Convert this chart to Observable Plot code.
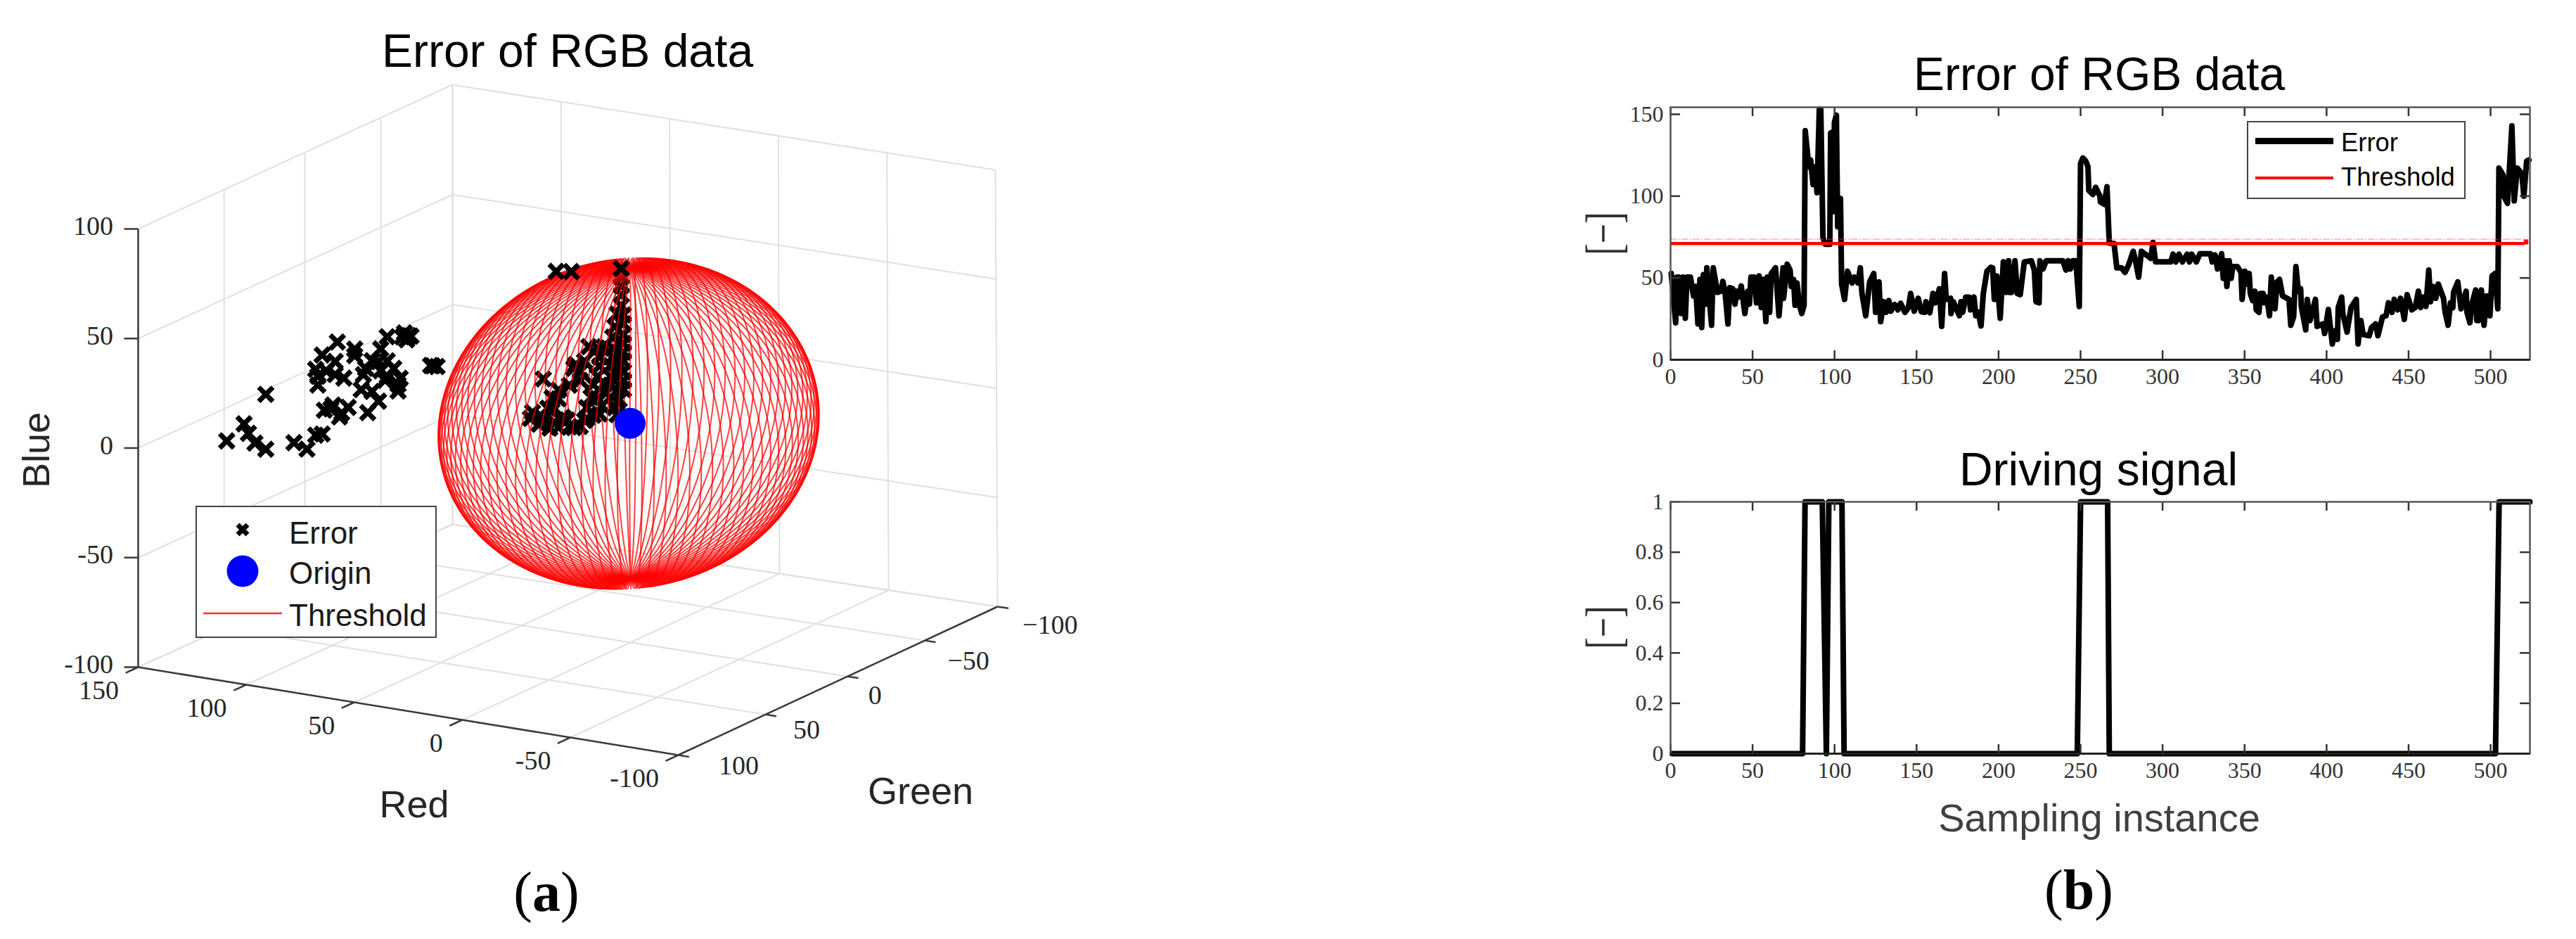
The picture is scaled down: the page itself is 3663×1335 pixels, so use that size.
<!DOCTYPE html>
<html>
<head>
<meta charset="utf-8">
<script src="https://cdn.jsdelivr.net/npm/d3@7"></script>
<script src="https://cdn.jsdelivr.net/npm/@observablehq/plot@0.6"></script>
<style>
html,body{margin:0;padding:0;background:#fff;}
#page{position:relative;width:3663px;height:1335px;overflow:hidden;font-family:"Liberation Sans",Arial,sans-serif;}
#page svg{position:absolute;background:none;}
.lbl{position:absolute;white-space:nowrap;line-height:1;}
.box{position:absolute;background:#fff;box-sizing:border-box;}
</style>
</head>
<body>
<div id="page"></div>
<script>
// ---------- DATA ----------
const threshold = 71;
const redTicks = [150, 100, 50, 0, -50, -100];
const greenTicks = [-100, -50, 0, 50, 100];
const blueTicks = [100, 50, 0, -50, -100];
const sampleTicks = [0, 50, 100, 150, 200, 250, 300, 350, 400, 450, 500];
const errorTicks = [0, 50, 100, 150];
const driveTicks = [0, 0.2, 0.4, 0.6, 0.8, 1];

// RGB error cloud (on the Green = 0 plane)
const errorRed = [186,178,176,173,168,155,149,145,142,168,141,137,134,130,121,116,119,124,107,144,145,142,135,127,127,136,140,136,132,144,123,119,115,112,104,101,103,105,102,116,112,109,115,106,107,113,122,91,89,92,112,138,133,
4,4,4,4,3,3,3,3,3,3,3,3,3,5,7,6,6,7,8,8,8,9,9,9,11,13,14,15,14,14,15,17,18,20,20,23,25,26,23,23,28,33,36,38,45,46,42,37,33,28,31,36,40,12,6,6,6,6,12,15,17,21,26,40,35,29,33,21,19,34,27,4];
const errorBlue = [-37,-28,-32,-36,-38,-33,-35,-28,-27,-13,-16,-13,-18,-13,-14,-8,-4,-4,-2,-5,2,9,16,14,11,7,2,1,0,-1,3,10,16,22,25,24,22,23,24,10,11,8,6,4,1,2,6,12,12,12,4,-15,-16,
66,62,58,53,49,45,40,36,32,28,23,19,15,10,6,3,49,43,38,33,29,25,20,16,12,6,2,32,28,24,19,15,9,4,-1,-5,23,21,20,16,13,10,6,1,-2,-5,-7,-8,-7,-6,-2,0,14,33,27,21,14,9,16,9,1,-2,-6,-4,-5,-3,6,25,32,64,65,70];
const origin = [0, 0, 0];

// Error of RGB data, vertices of the trace
const errorSample = [0.4,3.1,3.9,5,6.4,7.6,9,10,12.1,14,15.3,16.7,17.9,19,20,21.4,22.1,23.6,25,26,28.6,30.7,31.9,33.3,35,36.1,37.9,39.3,40.3,41.4,43.1,45.3,47.1,48.1,49,51,52.4,54,55.3,56.7,58.1,59,60.4,61.4,64,66.1,68.6,68.9,71.1,72.9,73.6,75,75.9,77.1,78.6,80,81.4,82.1,84.3,85.4,86.9,88.1,89.3,90.7,91.6,92.9,94.3,97.1,97.6,99,99.6,99.9,101.1,101.9,103.6,104.3,106.1,107.9,110.7,112.1,114.3,115.7,116.7,119,121.4,123.9,125,127.1,128.1,130,131.4,133.1,134.3,136.7,138.6,140.3,142.9,145,146.4,148.6,151,152.9,155,155.7,158.1,160,161.4,163.9,165.3,167.1,168.1,170.7,171,172.4,176.1,177.1,178.1,180,182.1,182.9,185,186.1,187.6,189.3,190.7,192.9,195.3,196.4,197.4,198.9,201,202.9,204.6,206.1,206.7,207.9,210,211.4,213.2,215.7,220,221.8,222.8,224.7,225.2,227.1,229,239.2,241.1,242.4,243.8,245.2,247.1,249.2,250,251.4,253.2,254.5,255,257.5,259.2,261.8,262.1,264.5,266.1,267.5,270.4,272.1,275,277.1,279.2,282.1,283.5,285.4,287.1,292.8,294.2,295.7,305,306.4,308.1,310,312.1,315,316.4,317.8,320.6,322.8,329.2,330.3,332,333.5,336,337,338.5,339.2,340.6,341.8,342.8,345.6,347.8,348.5,350.2,351.3,352.8,353.5,354.9,356.3,357.1,358.8,359.6,361.3,362,363.5,365.2,366.3,368.5,369.9,371.3,373.2,377.1,378.2,379.9,381.3,382.8,384.2,384.6,387.3,388.2,389.9,393.2,394.2,397.8,398.8,401.1,403.5,404.9,406.6,407.1,409.2,409.9,412.5,414.9,418.1,419.2,420.9,422.3,426,427.4,429.9,431.3,434.1,436.3,437.7,439.9,441.3,443.4,445.1,447.4,449.1,452,454.1,456,457.4,458.9,460.6,462.3,463.4,464.9,466.6,468.1,471.3,472.3,474.1,475.6,477,477.4,480,482,485.1,485.6,487.4,488.4,490.9,491.6,492.7,494.4,496,497.7,499.6,500.9,502.7,504.4,505.1,507.7,508.1,510.3,513,514.4,516.3,519.1,520.3,522,523.4];
const errorValue = [52.7,22.6,50.5,50.5,28.3,50.5,25.4,50.5,50.5,39,44.8,21.9,49.1,19.7,52,34,56.2,37.6,21.1,56.2,41.2,41.9,47.9,40.5,21.9,44.1,43.4,34,41.9,38.3,45.1,28.3,41.9,34,50.5,50.5,34.8,51.2,31.9,49.1,23.3,50.5,29,52.7,56.2,26.9,56.2,37.6,58.4,54.8,44.8,49.1,33.3,46.9,33.3,28.3,33.3,140,117.9,122.1,107.1,117.9,102.1,153,153,74.9,70.6,70.6,138.6,139.3,90.6,145,149.4,81.3,98.5,46.2,36.9,54.1,46.9,50.5,46.9,56.2,40.5,26.9,47.6,52.7,29,47.6,23.3,35.5,29,36.2,29.7,33.8,30.5,34.5,29,31.9,40.5,29.7,37.6,29.3,29,35.5,28.7,40.5,34.8,43.4,20.4,52.7,36.9,37.6,28.3,35.5,26.9,35.5,29,38.3,38.3,30.5,38.3,26.9,29,20.7,40.5,54.1,56.5,56.2,36.9,51.2,25.4,59.8,41.2,60.5,41.2,41.2,60.5,40.5,39.8,59.8,60.5,54.8,35.5,34.8,60.5,55.5,60.5,60.5,54.8,60.5,55.5,60.5,60.5,32.6,120,123.3,121.4,117.9,103.5,101,105.4,100,96.4,94.9,105.7,71.3,71,56.2,56.2,53.4,57.7,66.3,60.5,50.5,66.3,62,71.7,59.8,59.8,64.5,59.8,64.5,59.8,64.5,59.8,64.5,59.8,64.8,64.8,59.8,64.1,55.5,64.8,49.8,60.5,44.8,60.5,49.8,57,57,53.4,36.9,54.1,46.2,52.7,40.5,36.2,41.9,30.5,29,40.5,40.5,34.8,38.3,26.9,50.5,31.2,47.6,49.1,39,36.9,21.1,26.2,57,41.9,43.4,32.6,18.3,36.9,24,36.9,20.4,21.9,16.1,30.7,9.7,17.6,12.5,31.9,38.3,28.3,16.9,31.9,36.9,9.7,24,15.4,14.7,19.7,21.9,14.7,26.2,26.9,34.8,29,36.9,30.5,37.6,24.7,39.8,30.5,31.9,41.9,31.9,38.3,32.6,54.8,35.5,44.8,37.6,46.2,37.6,29,21.1,34.8,31.9,41.2,47.6,31.2,41.9,29,22.6,33.3,42.6,24,24,42.6,21.1,39,26.9,51.2,52.7,31.2,117.1,112.8,100,95.6,142.9,97.1,117.1,113.6,100,121.4,122.1];

// Driving signal
const driveSample = [1,80.5,82,92.5,95,96.5,104.5,105.8,248,250,266.5,267.5,503,505.2,524];
const driveValue  = [0,0,1,1,0,1,1,0,0,1,1,0,0,1,1];

// ---------- HELPERS ----------
const page = document.getElementById("page");
const SANS = '"Liberation Sans",Arial,sans-serif';
const SERIF = '"Liberation Serif","Times New Roman",serif';

function label(text, x, y, size, opts = {}) {
  const d = document.createElement("div");
  d.className = "lbl";
  if (opts.html) d.innerHTML = text; else d.textContent = text;
  d.style.left = x + "px"; d.style.top = y + "px";
  d.style.fontSize = size + "px";
  d.style.fontFamily = opts.font || SANS;
  d.style.color = opts.color || "#000";
  d.style.zIndex = 5;
  d.style.transform = `translate(${opts.ax ?? -50}%,-50%)` + (opts.rot ? ` rotate(${opts.rot}deg)` : "") + (opts.scale ? ` scale(${opts.scale})` : "");
  page.appendChild(d);
}
function place(svg, left, top) {
  svg.style.left = left + "px"; svg.style.top = top + "px";
  page.appendChild(svg);
}

// ---------- CAMERA OF PANEL (a): box corners on the view plane ----------
const cam = {
  floor: [[196,948],[964,1073],[1418,862],[643,745]],
  roof:  [[196,325],[964,449],[1415,241],[643,120]],
  k: 0.128
};
function mix(a, b, t) { return [a[0]+(b[0]-a[0])*t, a[1]+(b[1]-a[1])*t]; }
function project(r, g, b) {
  const u = (150 - r) / 250;
  const v0 = (100 - g) / 200;
  const v = v0 * (1 + cam.k) / (1 + cam.k * v0);
  const w = (b + 100) / 200;
  const fl = mix(mix(cam.floor[0], cam.floor[1], u), mix(cam.floor[3], cam.floor[2], u), v);
  const ro = mix(mix(cam.roof[0], cam.roof[1], u), mix(cam.roof[3], cam.roof[2], u), v);
  return mix(fl, ro, w);
}
function seg(a, b) { const p = project(...a), q = project(...b); return {x1:p[0], y1:p[1], x2:q[0], y2:q[1]}; }

// grid of the three back faces
const grid = [];
for (const r of redTicks) {
  grid.push(seg([r,-100,-100],[r,-100,100]));   // back-right wall verticals
  grid.push(seg([r,-100,-100],[r,100,-100]));   // floor
}
for (const g of greenTicks) {
  grid.push(seg([150,g,-100],[150,g,100]));     // back-left wall verticals
  grid.push(seg([150,g,-100],[-100,g,-100]));   // floor
}
for (const b of blueTicks) {
  grid.push(seg([150,-100,b],[-100,-100,b]));
  grid.push(seg([150,-100,b],[150,100,b]));
}
const axisLines = [seg([150,100,-100],[150,100,100]), seg([150,100,-100],[-100,100,-100]), seg([-100,100,-100],[-100,-100,-100])];
const tickSegs = [
  ...redTicks.map(r => seg([r,100,-100],[r,107,-100])),
  ...greenTicks.map(g => seg([-100,g,-100],[-105,g,-100])),
  ...blueTicks.map(b => { const p = project(150,100,b); return {x1:p[0], y1:p[1], x2:p[0]-20, y2:p[1]}; })
];

// threshold sphere: meridians of radius = threshold around the origin
const meridians = 100, steps = 60;
const backLines = [], frontLines = [];
for (let m = 0; m < meridians; m++) {
  const th = 2 * Math.PI * (m + 0.25) / meridians;
  const front = -2.25 * Math.cos(th) + 3.07 * Math.sin(th) > 0;
  for (let i = 0; i <= steps; i++) {
    const ph = -Math.PI / 2 + Math.PI * i / steps;
    const p = project(threshold*Math.cos(ph)*Math.cos(th), threshold*Math.cos(ph)*Math.sin(th), threshold*Math.sin(ph));
    (front ? frontLines : backLines).push({x:p[0], y:p[1], id:m});
  }
}
const errPts = errorRed.map((r,i) => { const p = project(r, 0, errorBlue[i]); return {x:p[0], y:p[1], blue:errorBlue[i], red:r}; });
const topPts = errPts.filter(d => d.blue >= 60 && d.red > 20 || d.blue >= 70);
const restPts = errPts.filter(d => !topPts.includes(d));
const origPt = project(...origin);

const W3 = 1640, H3 = 1335;
const markerOpts = {x:"x", y:"y", symbol:"times", r:9.2, stroke:"#000", strokeWidth:7};
const meshOpts = {x:"x",y:"y",z:"id",stroke:"#ff0000",strokeWidth:2,strokeOpacity:0.75,curve:"linear"};
const panelA = Plot.plot({
  width:W3, height:H3, margin:0, axis:null,
  x:{type:"linear", domain:[0,W3], range:[0,W3], axis:null},
  y:{type:"linear", domain:[0,H3], range:[0,H3], axis:null},
  marks:[
    Plot.link(grid, {x1:"x1",y1:"y1",x2:"x2",y2:"y2",stroke:"#e0e0e0",strokeWidth:2}),
    Plot.link(axisLines, {x1:"x1",y1:"y1",x2:"x2",y2:"y2",stroke:"#3a3a3a",strokeWidth:2.5}),
    Plot.link(tickSegs, {x1:"x1",y1:"y1",x2:"x2",y2:"y2",stroke:"#3a3a3a",strokeWidth:2.5}),
    Plot.line(backLines, meshOpts),
    Plot.dot(restPts, markerOpts),
    Plot.line(frontLines, meshOpts),
    Plot.dot(topPts, markerOpts),
    Plot.dot([origPt], {x:d=>d[0], y:d=>d[1], r:22, fill:"#0000ff"})
  ]
});
place(panelA, 0, 0);

// tick labels of panel (a)
const serifTick = {font:SERIF, color:"#262626"};
blueTicks.forEach(b => { const p = project(150,100,b); label(String(b), p[0]-35, p[1]-4, 38, {...serifTick, ax:-100}); });
redTicks.forEach(r => { const p = project(r,100,-100); label(String(r), p[0]-27, p[1]+33, 38, {...serifTick, ax:-100}); });
const greenDx = [36,33,30,40,58], greenDy = [26,29,27,22,15];
greenTicks.forEach((g,i) => { const p = project(-100,g,-100); label(String(g).replace("-","\u2212"), p[0]+greenDx[i], p[1]+greenDy[i], 38, {...serifTick, ax:0}); });

label("Error of RGB data", 807, 72, 66);
label("Blue", 51, 640, 54, {rot:-90, color:"#262626"});
label("Red", 589, 1143, 54, {color:"#262626"});
label("Green", 1309, 1124, 54, {color:"#262626"});
label('(<b>a</b>)', 777, 1268, 80, {font:SERIF, html:true});

// legend (a)
function boxAt(l,t,w,h,border){ const d=document.createElement("div"); d.className="box"; d.style.cssText+=`left:${l}px;top:${t}px;width:${w}px;height:${h}px;border:${border};z-index:4;`; page.appendChild(d); return d; }
boxAt(278,719,343,188,"2.5px solid #444");
function swatch(html, l, t, w, h){ const d=document.createElement("div"); d.style.cssText=`position:absolute;left:${l}px;top:${t}px;width:${w}px;height:${h}px;z-index:5;`; d.innerHTML=`<svg width="${w}" height="${h}" style="position:absolute;left:0;top:0">${html}</svg>`; page.appendChild(d); }
swatch('<path d="M4 4L18 18M18 4L4 18" stroke="#000" stroke-width="7"/>', 334, 742, 22, 22);
swatch('<circle cx="23" cy="23" r="22.5" fill="#0000ff"/>', 322, 789, 46, 46);
swatch('<line x1="0" y1="2" x2="112" y2="2" stroke="#ff3030" stroke-width="2.5"/>', 289, 870, 112, 4);
label("Error", 411, 758, 44, {ax:0, color:"#1a1a1a"});
label("Origin", 411, 815, 44, {ax:0, color:"#1a1a1a"});
label("Threshold", 411, 875, 44, {ax:0, color:"#1a1a1a"});

// ---------- PANEL (b) ----------
const xDomain = [0, 524];
function timePlot({top, height, mTop, mBottom, yDomain, yTicks, marks}) {
  const yTop = yDomain[1];
  const tickY = yTop * 13 / (height - mTop - mBottom);
  const tickX = 524 * 14 / 1222;
  const p = Plot.plot({
    width:1413, height, marginLeft:125, marginRight:66, marginTop:mTop, marginBottom:mBottom,
    style:{fontFamily:SERIF, color:"#333", overflow:"visible"},
    x:{domain:xDomain, label:null},
    y:{domain:yDomain, label:null},
    marks:[
      ...marks,
      Plot.ruleX(sampleTicks, {y1:0, y2:tickY, stroke:"#333", strokeWidth:2.5}),
      Plot.ruleX(sampleTicks, {y1:yTop, y2:yTop-tickY, stroke:"#333", strokeWidth:2.5}),
      Plot.ruleY(yTicks, {x1:0, x2:tickX, stroke:"#333", strokeWidth:2.5}),
      Plot.ruleY(yTicks, {x1:524, x2:524-tickX, stroke:"#333", strokeWidth:2.5}),
      Plot.frame({stroke:"#555", strokeWidth:2.5}),
      Plot.ruleY([0], {stroke:"#222", strokeWidth:3}),
      Plot.axisX(sampleTicks, {anchor:"bottom", tickSize:0, tickPadding:12, fontSize:32, label:null, tickFormat:d=>String(d), fill:"#333"}),
      Plot.axisY(yTicks, {anchor:"left", tickSize:0, tickPadding:10, fontSize:32, label:null, tickFormat:d=>String(d), fill:"#333"})
    ]
  });
  place(p, 2250, top);
  return p;
}
const errorData = errorSample.map((s,i) => ({s, v:errorValue[i]}));
const driveData = driveSample.map((s,i) => ({s, v:driveValue[i]}));

timePlot({top:120, height:460, mTop:32, mBottom:69, yDomain:[0,154.3], yTicks:errorTicks, marks:[
  Plot.line(errorData, {x:"s", y:"v", stroke:"#000", strokeWidth:8, strokeLinejoin:"round", curve:"linear", clip:false}),
  Plot.ruleY([73.7], {x1:0, x2:522, stroke:"#f05050", strokeWidth:1, strokeOpacity:0.7, strokeDasharray:"10,2,2,2"}),
  Plot.ruleY([threshold], {x1:0, x2:521, stroke:"#ff0000", strokeWidth:4.5}),
  Plot.ruleY([72], {x1:520.5, x2:523.2, stroke:"#ff0000", strokeWidth:7})
]});
timePlot({top:680, height:480, mTop:33, mBottom:89, yDomain:[0,1], yTicks:driveTicks, marks:[
  Plot.line(driveData, {x:"s", y:"v", stroke:"#000", strokeWidth:8, strokeLinejoin:"round", curve:"linear"})
]});

label("Error of RGB data", 2985, 105, 66);
label("Driving signal", 2984, 667, 66);
label("Sampling instance", 2985, 1163, 56, {color:"#404040"});
label("[\u2212]", 2279, 332, 50, {font:SERIF, rot:-90, scale:"1,1.45", color:"#333"});
label("[\u2212]", 2279, 892, 50, {font:SERIF, rot:-90, scale:"1,1.45", color:"#333"});
label('(<b>b</b>)', 2956, 1265, 80, {font:SERIF, html:true});

// legend (b)
boxAt(3195,172,311,111,"2.5px solid #444");
swatch('<rect x="0" y="0" width="111" height="9" fill="#000"/>', 3207, 196, 111, 9);
swatch('<rect x="0" y="0" width="111" height="4" fill="#ff0000"/>', 3207, 251, 111, 4);
label("Error", 3329, 203, 36.4, {ax:0});
label("Threshold", 3329, 252, 36.4, {ax:0});
</script>
</body>
</html>
